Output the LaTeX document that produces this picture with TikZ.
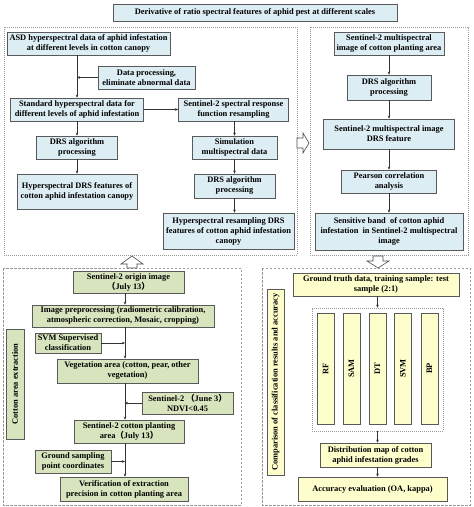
\documentclass[tikz,border=0pt]{standalone}
\usepackage{fontspec}
\setmainfont{Liberation Serif}
\newfontfamily\cjkf{Noto Sans CJK SC}
\usetikzlibrary{arrows.meta,shadows}
\newcommand\lpar{{\cjkf （}}
\newcommand\rpar{{\cjkf ）}}
\newcommand\fsz{\fontsize{8.4}{10}\selectfont\bfseries}
\definecolor{blueF}{HTML}{DDEDF4}
\definecolor{greenF}{HTML}{D7E4BD}
\definecolor{yellowF}{HTML}{FEFECC}
\definecolor{regionC}{HTML}{9A9A9A}
\tikzset{
  box/.style={draw=black!65, line width=0.6pt, align=center, inner sep=1pt,
    font=\fsz, drop shadow={shadow xshift=0.7pt, shadow yshift=-0.7pt, fill=black!40, opacity=1}},
  bl/.style={box, fill=blueF},
  gr/.style={box, fill=greenF},
  ye/.style={box, fill=yellowF},
  vlab/.style={rotate=90},
  arr/.style={-{Stealth[length=3pt,width=2.6pt]}, line width=0.5pt, draw=black!80},
  regdot/.style={draw=regionC, line width=0.6pt, dash pattern=on 0.8pt off 1.2pt},
  regdash/.style={draw=regionC, line width=0.6pt, dash pattern=on 2.5pt off 1.5pt},
  hollow/.style={draw=black!70, fill=white, line width=0.6pt},
}
\begin{document}
\begin{tikzpicture}[x=1pt,y=-1pt]
\useasboundingbox (0,0) rectangle (474,507);
\fill[white] (0,0) rectangle (474,507);
% regions
\draw[regdot] (4,27) rectangle (297,255);
\draw[regdot] (310,27) rectangle (468,255);
\draw[regdash] (3,268) rectangle (241,505);
\draw[regdash] (262,268) rectangle (470,505);
% hollow arrows
\draw[hollow] (297,138) -- (303,138) -- (303,133) -- (309,143) -- (303,153) -- (303,148) -- (297,148) -- cycle;
\draw[hollow] (127,268) -- (127,264) -- (121,264) -- (132,256) -- (143,264) -- (137,264) -- (137,268) -- cycle;
\draw[hollow] (373,256) -- (383,256) -- (383,261) -- (389,261) -- (378,268) -- (367,261) -- (373,261) -- cycle;

% title
\node[bl, minimum width=284, minimum height=17] (title) at (255,12.5) {Derivative of ratio spectral features of aphid pest at different scales};

% upper left
\node[bl, minimum width=163, minimum height=23] (asd) at (88.5,43.5) {ASD hyperspectral data of aphid infestation\\at different levels in cotton canopy};
\node[bl, minimum width=97, minimum height=23] (dp) at (146.5,77.5) {Data processing,\\eliminate abnormal data};
\node[bl, minimum width=133, minimum height=23] (std) at (77,109.5) {Standard hyperspectral data for\\different levels of aphid infestation};
\node[bl, minimum width=110, minimum height=23] (s2r) at (233.5,109.5) {Sentinel-2 spectral response\\function resampling};
\node[bl, minimum width=81, minimum height=23] (drs1) at (77,147.5) {DRS algorithm\\processing};
\node[bl, minimum width=120, minimum height=35] (hdf) at (77,191.5) {Hyperspectral DRS features of\\cotton aphid infestation canopy};
\node[bl, minimum width=85, minimum height=23] (sim) at (234.5,147.5) {Simulation\\multispectral data};
\node[bl, minimum width=81, minimum height=24] (drs2) at (234.5,186) {DRS algorithm\\processing};
\node[bl, minimum width=131, minimum height=36] (hrs) at (228.5,231) {Hyperspectral resampling DRS\\features of cotton aphid infestation\\canopy};

\draw[arr] (asd.south -| std.north) -- (std.north);
\draw[arr] (dp.west) -- (dp.west -| std.north);
\draw[arr] (std.east) -- (s2r.west);
\draw[arr] (std.south) -- (drs1.north);
\draw[arr] (drs1.south) -- (hdf.north);
\draw[arr] (sim.north |- s2r.south) -- (sim.north);
\draw[arr] (sim.south) -- (drs2.north);
\draw[arr] (drs2.south) -- (drs2.south |- hrs.north);

% upper right
\node[bl, minimum width=110, minimum height=23] (s2m) at (389,43.5) {Sentinel-2 multispectral\\image of cotton planting area};
\node[bl, minimum width=84, minimum height=25] (drs3) at (389,87.5) {DRS algorithm\\processing};
\node[bl, minimum width=131, minimum height=30] (s2f) at (389,134) {Sentinel-2 multispectral image\\DRS feature};
\node[bl, minimum width=95, minimum height=23] (pear) at (389,181.5) {Pearson correlation\\analysis};
\node[bl, minimum width=148, minimum height=37] (sens) at (389,231.5) {Sensitive band\ \ of cotton aphid\\infestation\ \ in Sentinel-2 multispectral\\image};
\draw[arr] (s2m) -- (drs3);
\draw[arr] (drs3) -- (s2f);
\draw[arr] (s2f) -- (pear);
\draw[arr] (pear) -- (sens);

% lower left
\coordinate (cl) at (125,300);
\node[gr, minimum width=111, minimum height=22] (orig) at (128.5,282) {Sentinel-2 origin image\\\lpar July 13\rpar};
\node[gr, minimum width=182, minimum height=22] (pre) at (123,316) {Image preprocessing (radiometric calibration,\\atmospheric correction, Mosaic, cropping)};
\node[gr, minimum width=66, minimum height=20] (svm) at (68,343) {SVM Supervised\\classification};
\node[gr, minimum width=141, minimum height=24] (veg) at (127.5,371) {Vegetation area (cotton, pear, other\\vegetation)};
\node[gr, minimum width=91, minimum height=22] (ndvi) at (187.5,403) {Sentinel-2 \lpar June 3\rpar\\NDVI<0.45};
\node[gr, minimum width=110, minimum height=23] (cpa) at (129,431.5) {Sentinel-2 cotton planting\\area\lpar July 13\rpar};
\node[gr, minimum width=76, minimum height=23] (gsp) at (73,461.5) {Ground sampling\\point coordinates};
\node[gr, minimum width=128, minimum height=24] (ver) at (124,489) {Verification of extraction\\precision in cotton planting area};
\node[gr, vlab, minimum width=110, minimum height=18] (cae) at (15,384) {Cotton area extraction};

\draw[arr] (orig.south -| cl) -- (pre.north -| cl);
\draw[arr] (pre.south -| cl) -- (veg.north -| cl);
\draw[arr] (svm.east) -- (svm.east -| cl);
\draw[arr] (veg.south -| cl) -- (cpa.north -| cl);
\draw[arr] (ndvi.west) -- (ndvi.west -| cl);
\draw[arr] (cpa.south -| cl) -- (ver.north -| cl);
\draw[arr] (gsp.east) -- (gsp.east -| cl);

% lower right
\node[ye, minimum width=166, minimum height=23] (gt) at (376,284.5) {Ground truth data, training sample: test\\sample (2:1)};
\node[regdot, minimum width=131, minimum height=123, inner sep=0] (inner) at (377.5,369.5) {};
\node[ye, vlab, minimum width=111, minimum height=17] (rf) at (325.5,368.5) {RF};
\node[ye, vlab, minimum width=111, minimum height=17] (sam) at (351.5,368.5) {SAM};
\node[ye, vlab, minimum width=111, minimum height=17] (dt) at (377.5,368.5) {DT};
\node[ye, vlab, minimum width=111, minimum height=17] (svmc) at (403,368.5) {SVM};
\node[ye, vlab, minimum width=111, minimum height=17] (bp) at (429.5,368.5) {BP};
\node[ye, minimum width=111, minimum height=24] (dist) at (375.5,455) {Distribution map of cotton\\aphid infestation grades};
\node[ye, minimum width=149, minimum height=24] (acc) at (372.5,489) {Accuracy evaluation (OA, kappa)};
\node[ye, vlab, minimum width=186, minimum height=17] (comp) at (275.5,382) {Comparison of classification results and accuracy};

\draw[arr] (inner.north |- gt.south) -- (inner.north);
\draw[arr] (inner.south) -- (inner.south |- dist.north);
\draw[arr] (inner.south |- dist.south) -- (inner.south |- acc.north);
\end{tikzpicture}
\end{document}
